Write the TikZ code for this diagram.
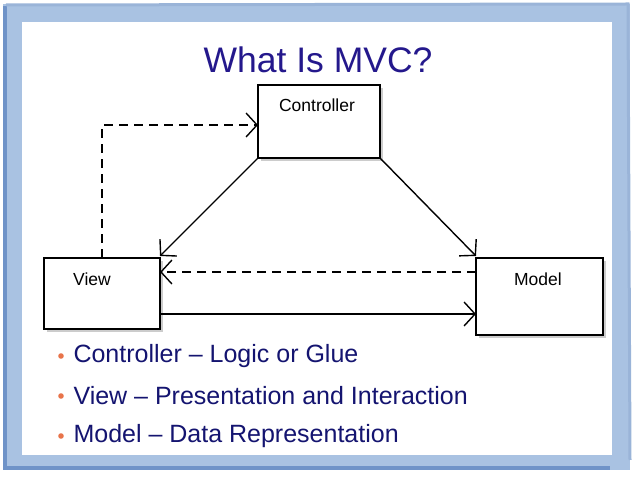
\documentclass[tikz,border=0pt]{standalone}
\usepackage{fontspec}
\setmainfont{Liberation Sans}
\usetikzlibrary{arrows.meta}
\definecolor{frame}{HTML}{A9C2E2}
\definecolor{framedark}{HTML}{6F93C8}
\definecolor{titleblue}{HTML}{24188C}
\definecolor{textblue}{HTML}{141470}
\definecolor{bulletor}{HTML}{E8744A}
\tikzset{
  box/.style={draw=black, fill=white, line width=1.3pt},
  lab/.style={font=\fontsize{17.5}{20}\selectfont},
  tip/.style={-{Straight Barb[length=11pt,width=24pt,line width=1.4pt]}, line width=1.4pt},
  dashline/.style={dash pattern=on 9pt off 6pt},
  bul/.style={anchor=west, text=textblue, font=\fontsize{25}{28}\selectfont},
}
\begin{document}
\begin{tikzpicture}[x=1pt,y=-1pt]
\useasboundingbox (0,0) rectangle (638,478);
\fill[frame] (3,4) rectangle (630,470);
\draw[framedark, line width=4pt] (5,6) -- (5,468) -- (610,468);
\draw[framedark!70, line width=3pt] (6,5) -- (628,4) -- (630,460);
\fill[white] (22,22) rectangle (612,455);
\node[text=titleblue, font=\fontsize{35.5}{40}\selectfont] (title) at (318,60) {What Is MVC?};
% shadows
\fill[gray!40] (261,88) rectangle (383,161);
\fill[gray!40] (47,261) rectangle (163,332);
\fill[gray!40] (479,261) rectangle (606,338);
\draw[box] (258,85) rectangle (380,158);
\draw[box] (44,258) rectangle (160,329);
\draw[box] (476,258) rectangle (603,335);
\coordinate (Cbl) at (258,158); \coordinate (Cbr) at (380,158);
\coordinate (Vt) at (102,258); \coordinate (Vtr) at (160,256);
\coordinate (Mtl) at (476,256);
\coordinate (Cl) at (258,125);
\coordinate (Ml) at (476,272); \coordinate (Vr) at (160,272);
\coordinate (Vr2) at (160,314); \coordinate (Ml2) at (476,314);
\node[lab] (ct) at (317,105) {Controller};
\node[lab] (vt) at (92,279) {View};
\node[lab] (mt) at (538,279) {Model};
\draw[tip] (Cbl) -- (Vtr);
\draw[tip] (Cbr) -- (Mtl);
\draw[tip, dashline] (Vt) |- (Cl);
\draw[tip, dashline] (Ml) -- (Vr);
\draw[tip] (Vr2) -- (Ml2);
\foreach \y/\t in {356/Controller – Logic or Glue, 396/View – Presentation and Interaction, 436/Model – Data Representation}{
  \fill[bulletor] (61,\y) circle (2.8pt);
  \node[bul] at (70,\y) {\t};
}
\end{tikzpicture}
\end{document}
